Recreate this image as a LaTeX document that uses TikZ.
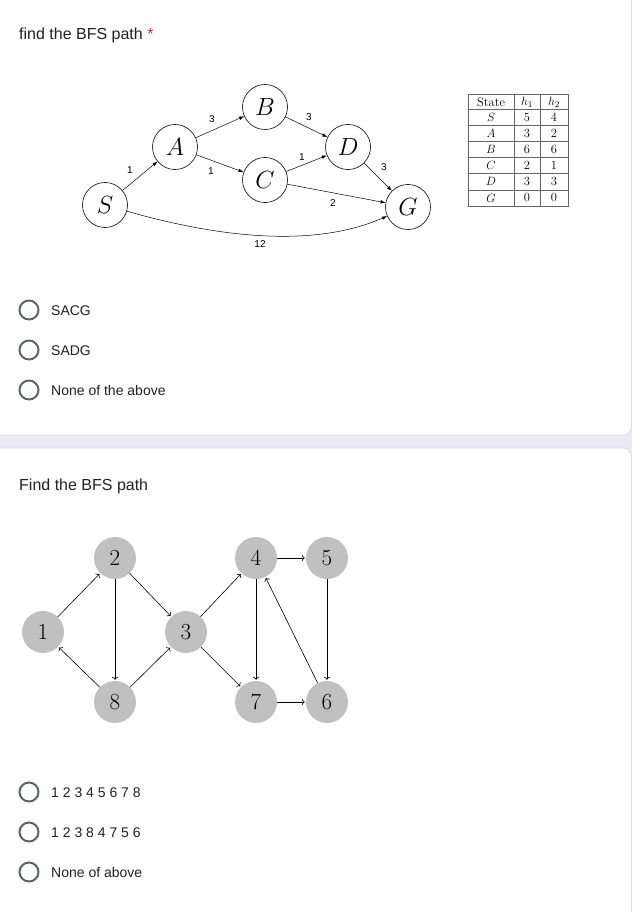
\documentclass[tikz,border=0pt]{standalone}
\usepackage{fontspec}
\newfontfamily\formfont{Liberation Sans}
\usetikzlibrary{arrows.meta}
\definecolor{formtext}{HTML}{202124}
\definecolor{radiogray}{HTML}{5F6368}
\definecolor{reqred}{HTML}{D93025}
\definecolor{bandcol}{HTML}{EDE9F7}
\definecolor{cardline}{HTML}{DADCE0}
\definecolor{nodegray}{HTML}{C0C0C0}
\definecolor{tabline}{HTML}{666666}
\begin{document}
\begin{tikzpicture}[x=1pt,y=-1pt,
  qtitle/.style={font=\formfont\fontsize{16}{18}\selectfont, text=formtext, anchor=base west, inner sep=0},
  opt/.style={font=\formfont\fontsize{14}{16}\selectfont, text=formtext, anchor=base west, inner sep=0},
  radio/.style={circle, draw=radiogray, line width=2pt, minimum size=19pt, inner sep=0},
  sn/.style={circle, draw, line width=0.6pt, minimum size=45pt, inner sep=0, font=\fontsize{23}{23}\selectfont},
  el/.style={font=\formfont\fontsize{10}{12}\selectfont, inner sep=0},
  sa/.style={-{Latex[length=5pt,width=3.5pt]}, line width=0.5pt},
  gn/.style={circle, fill=nodegray, minimum size=42pt, inner sep=0, font=\fontsize{23}{23}\selectfont},
  ga/.style={->, line width=0.6pt, shorten >=1pt},
  tl/.style={draw=tabline, line width=0.5pt},
  tab/.style={inner sep=0, font=\fontsize{12.5}{12.5}\selectfont}
]
\useasboundingbox (0,0) rectangle (632,912);
\fill[white] (0,0) rectangle (632,912);
% section band and cards
\fill[bandcol] (0,425) rectangle (632,458);
\draw[cardline, fill=white, rounded corners=8pt, line width=0.8pt] (-20,-20) rectangle (631.5,435);
\draw[cardline, fill=white, rounded corners=8pt, line width=0.8pt] (-20,448) rectangle (631.5,940);

% question 1
\node[qtitle] (q1) at (19,39.5) {find the BFS path \textcolor{reqred}{*}};

% top graph
\node[sn] (S) at (105,205) {$S$};
\node[sn] (A) at (175,147) {$A$};
\node[sn] (B) at (265,107) {$B$};
\node[sn] (C) at (265,180) {$C$};
\node[sn] (D) at (348,147) {$D$};
\node[sn] (G) at (408,207) {$G$};
\draw[sa] (S) -- (A);
\draw[sa] (A) -- (B);
\draw[sa] (A) -- (C);
\draw[sa] (B) -- (D);
\draw[sa] (C) -- (D);
\draw[sa] (D) -- (G);
\draw[sa] (C) -- (G);
\draw[sa] (S) .. controls (200,232) and (305,252) .. (G);
\node[el] (l1) at (130,170) {1};
\node[el] (l2) at (212,119) {3};
\node[el] (l3) at (211,171) {1};
\node[el] (l4) at (309,117) {3};
\node[el] (l5) at (302,157) {1};
\node[el] (l6) at (384,167) {3};
\node[el] (l7) at (333,203) {2};
\node[el] (l8) at (260,244) {12};

% table
\draw[tl] (468,94) rectangle (568,206);
\draw[tl] (468,109) -- (568,109);
\foreach \i in {1,...,5} \draw[tl] (468,{109+16.17*\i}) -- (568,{109+16.17*\i});
\draw[tl] (514,94) -- (514,206);
\draw[tl] (540,94) -- (540,206);
\node[tab] (th0) at (491,102) {State};
\node[tab] (th1) at (527,102) {$h_1$};
\node[tab] (th2) at (554,102) {$h_2$};
\foreach \s/\a/\b [count=\i] in {S/5/4, A/3/2, B/6/6, C/2/1, D/3/3, G/0/0} {
  \node[tab] (ts\i) at (491,{109+16.17*(\i-0.5)}) {$\s$};
  \node[tab] (ta\i) at (527,{109+16.17*(\i-0.5)}) {\a};
  \node[tab] (tb\i) at (554,{109+16.17*(\i-0.5)}) {\b};
}

% options 1
\node[radio] (r1) at (29,310) {};
\node[opt] (o1) at (51,315) {SACG};
\node[radio] (r2) at (29,350) {};
\node[opt] (o2) at (51,355) {SADG};
\node[radio] (r3) at (29,390) {};
\node[opt] (o3) at (51,395) {None of the above};

% question 2
\node[qtitle] (q2) at (19,490) {Find the BFS path};

% bottom graph
\node[gn] (n1) at (43,632) {1};
\node[gn] (n2) at (115,558) {2};
\node[gn] (n3) at (186,632) {3};
\node[gn] (n4) at (256,558) {4};
\node[gn] (n5) at (327,558) {5};
\node[gn] (n8) at (115,702) {8};
\node[gn] (n7) at (256,702) {7};
\node[gn] (n6) at (327,702) {6};
\draw[ga] (n1) -- (n2);
\draw[ga] (n2) -- (n8);
\draw[ga] (n2) -- (n3);
\draw[ga] (n8) -- (n1);
\draw[ga] (n8) -- (n3);
\draw[ga] (n3) -- (n4);
\draw[ga] (n3) -- (n7);
\draw[ga] (n4) -- (n5);
\draw[ga] (n4) -- (n7);
\draw[ga] (n5) -- (n6);
\draw[ga] (n7) -- (n6);
\draw[ga] (n6) -- (n4);

% options 2
\node[radio] (r4) at (29,792) {};
\node[opt] (o4) at (51,797) {1 2 3 4 5 6 7 8};
\node[radio] (r5) at (29,832) {};
\node[opt] (o5) at (51,837) {1 2 3 8 4 7 5 6};
\node[radio] (r6) at (29,872) {};
\node[opt] (o6) at (51,877) {None of above};
\end{tikzpicture}
\end{document}
